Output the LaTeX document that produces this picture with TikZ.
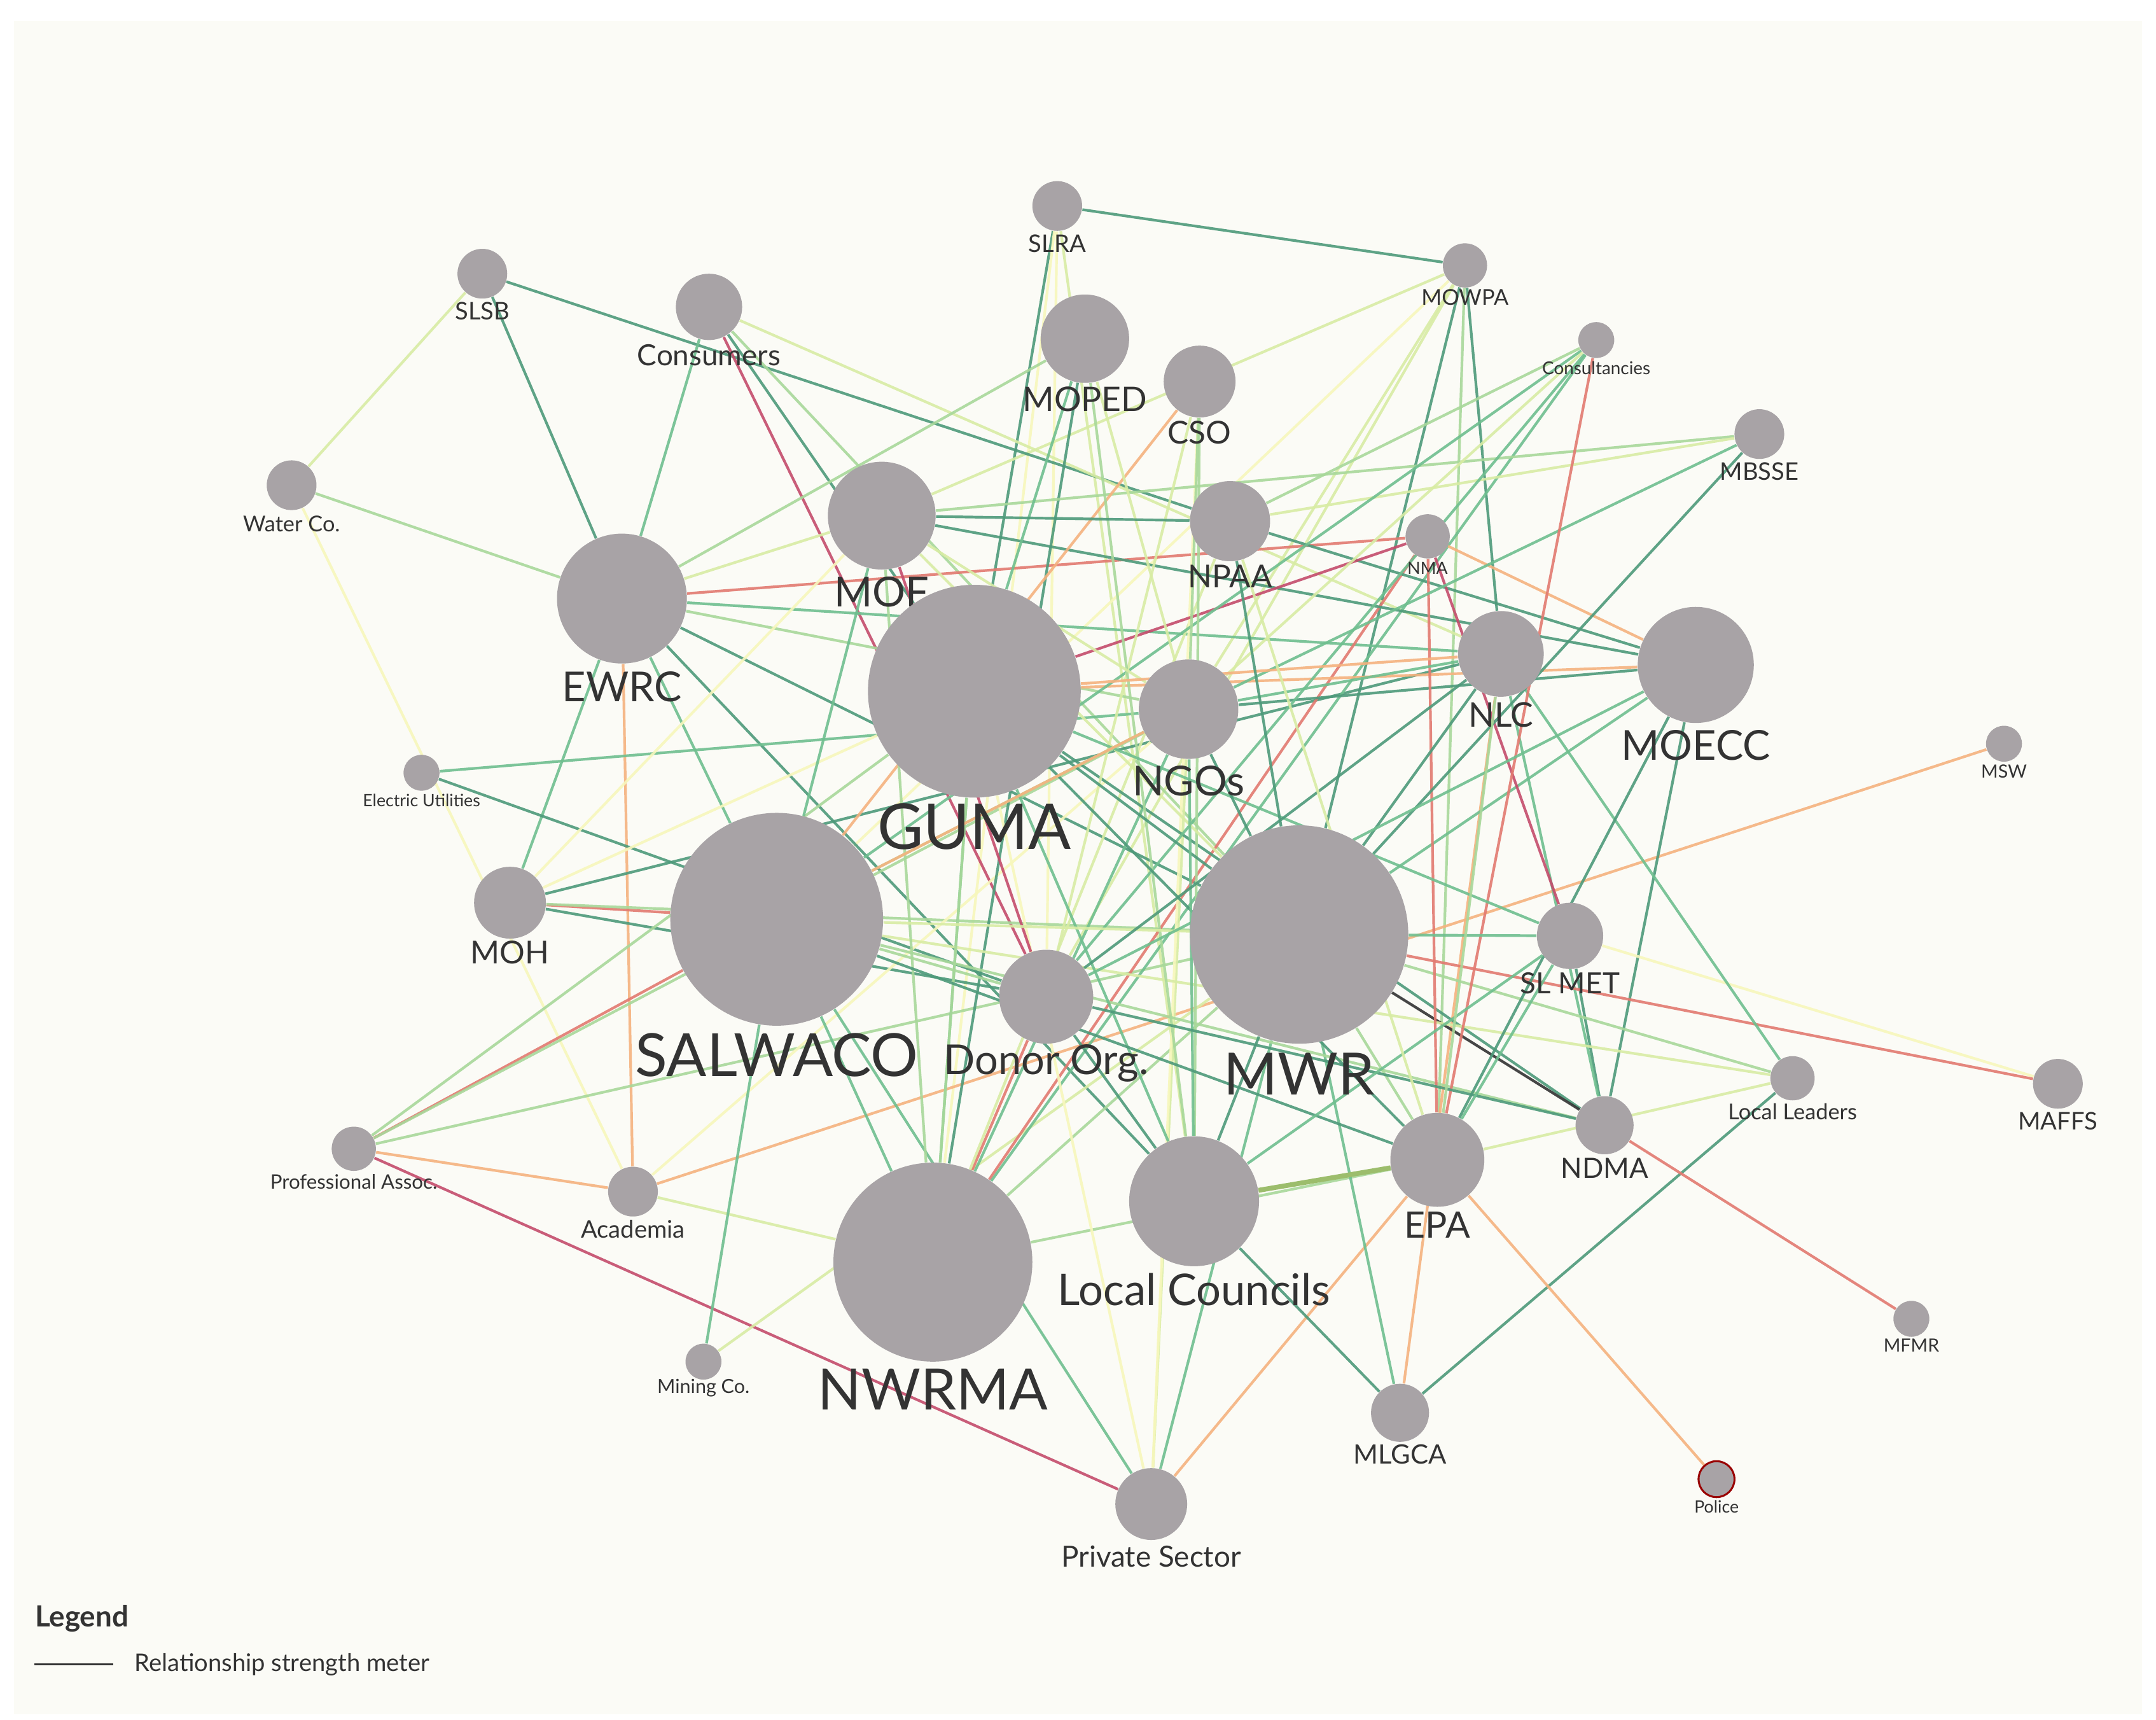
\documentclass[tikz,border=0pt]{standalone}
\usepackage{fontspec}
\setmainfont{Lato}
\pgfdeclarelayer{background}
\pgfdeclarelayer{bottom}
\pgfsetlayers{bottom,background,main}
\definecolor{bgc}{HTML}{FBFBF6}
\definecolor{vxc}{HTML}{A8A3A6}
\definecolor{txc}{HTML}{333333}
\definecolor{dg}{HTML}{4E9A7A}
\definecolor{mg}{HTML}{6FBF8F}
\definecolor{lg}{HTML}{A8D89A}
\definecolor{yg}{HTML}{D8ECA4}
\definecolor{py}{HTML}{F7F7BC}
\definecolor{orc}{HTML}{F5B27F}
\definecolor{rdc}{HTML}{E27A70}
\definecolor{crc}{HTML}{C44C6C}
\tikzset{
 vx/.style={circle,fill=vxc,inner sep=0pt},
 lb/.style={text=txc,inner sep=0pt,anchor=center},
 e/.style={line width=1.1pt,opacity=0.9},
}
\newcommand\nd[7]{\node[vx,minimum size=#4*0.04cm] (#1) at (#2,#3) {};
 \node[lb,font=\fontsize{#6}{#6}\selectfont] (#1l) at (#2,#7) {#5};}
\begin{document}
\begin{tikzpicture}[x=0.02cm,y=-0.02cm]
\useasboundingbox (0,0) rectangle (1560,1244);
\begin{pgfonlayer}{bottom}
\fill[white] (0,0) rectangle (1560,1244);
\fill[bgc] (10,15) rectangle (1550,1240);
\end{pgfonlayer}
\nd{SLRA}{765}{149}{18}{SLRA}{10}{176}
\nd{MOWPA}{1060}{192}{16}{MOWPA}{9}{215}
\nd{SLSB}{349}{198}{18}{SLSB}{10}{225}
\nd{Cons}{513}{222}{24}{Consumers}{12}{257}
\nd{MOPED}{785}{245}{32}{MOPED}{14}{289}
\nd{CSO}{868}{276}{26}{CSO}{13}{313}
\nd{Consult}{1155}{246}{13}{Consultancies}{7.3}{266}
\nd{MBSSE}{1273}{314}{18}{MBSSE}{10}{341}
\nd{Water}{211}{351}{18}{Water Co.}{9}{379}
\nd{MOF}{638}{373}{39}{MOF}{17}{428}
\nd{NPAA}{890}{377}{29}{NPAA}{13}{417}
\nd{NMA}{1033}{388}{16}{NMA}{7}{411}
\nd{EWRC}{450}{433}{47}{EWRC}{17}{497}
\nd{GUMA}{705}{500}{77}{GUMA}{26}{598}
\nd{NGOs}{860}{513}{36}{NGOs}{17}{565}
\nd{NLC}{1086}{473}{31}{NLC}{14}{517}
\nd{MOECC}{1227}{481}{42}{MOECC}{17}{539}
\nd{MSW}{1450}{538}{13}{MSW}{7.5}{558}
\nd{Elec}{305}{559}{13}{Electric Utilities}{7}{579}
\nd{MOH}{369}{653}{26}{MOH}{13}{689}
\nd{SALWACO}{562}{665}{77}{SALWACO}{24.5}{763}
\nd{MWR}{940}{676}{79}{MWR}{24}{777}
\nd{SLMET}{1136}{677}{24}{SL MET}{12}{711}
\nd{Donor}{757}{721}{34}{Donor Org.}{17}{769}
\nd{LL}{1297}{780}{16}{Local Leaders}{9}{804}
\nd{MAFFS}{1489}{784}{18}{MAFFS}{10}{811}
\nd{NDMA}{1161}{814}{21}{NDMA}{11.5}{845}
\nd{PA}{256}{831}{16}{Professional Assoc.}{8.2}{855}
\nd{Acad}{458}{862}{18}{Academia}{10}{889}
\nd{EPA}{1040}{839}{34}{EPA}{15}{886}
\nd{LC}{864}{869}{47}{Local Councils}{18}{933}
\nd{NWRMA}{675}{913}{72}{NWRMA}{23.5}{1005}
\nd{MFMR}{1383}{954}{13}{MFMR}{7.5}{973}
\nd{Mining}{509}{985}{13}{Mining Co.}{8}{1004}
\nd{MLGCA}{1013}{1022}{21}{MLGCA}{11}{1052}
\node[vx,minimum size=13*0.04cm,draw=red!60!black,line width=0.8pt] (Police) at (1242,1070) {};
\node[lb,font=\fontsize{7}{7}\selectfont] (Policel) at (1242,1090) {Police};
\nd{PS}{833}{1088}{26}{Private Sector}{12}{1126}
\node[lb,font=\bfseries\fontsize{12}{12}\selectfont,anchor=west] (legt) at (25,1171) {Legend};
\coordinate (la) at (25,1204); \coordinate (lbb) at (82,1204);
\draw[txc,line width=0.9pt] (la) -- (lbb);
\node[lb,font=\fontsize{10}{10}\selectfont,anchor=west] (legs) at (97,1204) {Relationship strength meter};
\begin{pgfonlayer}{background}
\foreach \a/\b/\c in {SLRA/MOWPA/dg, SLRA/GUMA/dg, SLRA/Donor/py, SLRA/NWRMA/py, SLRA/LC/yg,
MOWPA/NLC/dg, MOWPA/MWR/dg, MOWPA/MOF/yg, MOWPA/NGOs/yg, MOWPA/SALWACO/py, MOWPA/EPA/lg, MOWPA/Donor/yg,
SLSB/EWRC/dg, SLSB/NPAA/dg, SLSB/Water/yg,
Cons/EWRC/mg, Cons/Donor/crc, Cons/MWR/lg, Cons/NLC/yg, Cons/GUMA/dg,
Water/EWRC/lg, Water/Acad/py,
EWRC/NMA/rdc, EWRC/MOH/mg, EWRC/SALWACO/mg, EWRC/MOF/yg, EWRC/NLC/mg, EWRC/LC/dg, EWRC/MWR/dg, EWRC/Acad/orc, EWRC/MOPED/lg, EWRC/NGOs/lg,
Elec/NGOs/mg, Elec/Donor/dg,
MOH/SALWACO/rdc, MOH/MWR/lg, MOH/NLC/dg, MOH/Donor/dg, MOH/GUMA/py, MOH/MOF/py,
PA/SALWACO/rdc, PA/Acad/orc, PA/PS/crc, PA/GUMA/lg, PA/MWR/lg, PA/NGOs/lg,
Acad/NWRMA/yg, Acad/MSW/orc, Acad/NGOs/py,
Mining/SALWACO/mg, Mining/MWR/yg,
NWRMA/GUMA/mg, NWRMA/SALWACO/mg, NWRMA/MOPED/dg, NWRMA/NGOs/mg, NWRMA/NMA/rdc, NWRMA/EPA/lg, NWRMA/MWR/lg, NWRMA/Donor/rdc, NWRMA/NPAA/yg, NWRMA/Consult/mg,
PS/EPA/orc, PS/SALWACO/mg, PS/MWR/mg, PS/GUMA/py, PS/NGOs/yg, PS/CSO/py,
MLGCA/LL/dg, MLGCA/LC/dg, MLGCA/MWR/mg, MLGCA/NLC/orc,
Police/EPA/orc, MFMR/NDMA/rdc,
NDMA/SLMET/dg, NDMA/NLC/mg, NDMA/MOECC/dg, NDMA/GUMA/dg, NDMA/SALWACO/lg, NDMA/MWR/txc,
MAFFS/MWR/rdc, MAFFS/SLMET/py,
LL/NLC/mg, LL/SALWACO/yg, LL/MWR/lg, LL/EPA/yg,
MOECC/MWR/mg, MOECC/EPA/dg, MOECC/GUMA/orc, MOECC/NGOs/dg, MOECC/NMA/orc, MOECC/MOF/dg, MOECC/NPAA/dg,
NMA/SLMET/crc, NMA/GUMA/crc, NMA/EPA/rdc,
MBSSE/MWR/dg, MBSSE/NGOs/mg, MBSSE/MOF/lg, MBSSE/NPAA/yg,
Consult/SALWACO/mg, Consult/EPA/rdc, Consult/NPAA/lg, Consult/Donor/mg, Consult/NGOs/yg,
CSO/SALWACO/orc, CSO/LC/lg, CSO/NGOs/lg, CSO/Donor/yg,
MOPED/GUMA/mg, MOPED/LC/lg, MOPED/NGOs/yg,
MOF/NPAA/dg, MOF/SALWACO/mg, MOF/NWRMA/lg, MOF/Donor/crc, MOF/NGOs/yg, MOF/MWR/yg,
GUMA/MWR/dg, GUMA/LC/mg, GUMA/EPA/dg, GUMA/NLC/orc, GUMA/SLMET/mg, GUMA/NWRMA/lg,
NGOs/MWR/dg, NGOs/LC/mg, NGOs/SALWACO/lg, NGOs/NLC/mg,
SALWACO/MWR/yg, SALWACO/EPA/dg, SALWACO/Donor/lg, SALWACO/NGOs/orc,
MWR/EPA/lg, MWR/LC/dg, MWR/SLMET/mg, MWR/NLC/dg,
LC/EPA/lg, Donor/NDMA/dg, Donor/LC/dg, Donor/NLC/dg, Donor/MOECC/mg,
SLMET/LC/mg, SLMET/EPA/mg, NPAA/MWR/dg, NPAA/EPA/yg, NLC/EPA/lg} \draw[e,\c] (\a) -- (\b);
\draw[line width=2pt,color=lg!70!olive] (LC) -- (EPA);
\end{pgfonlayer}
\end{tikzpicture}
\end{document}
